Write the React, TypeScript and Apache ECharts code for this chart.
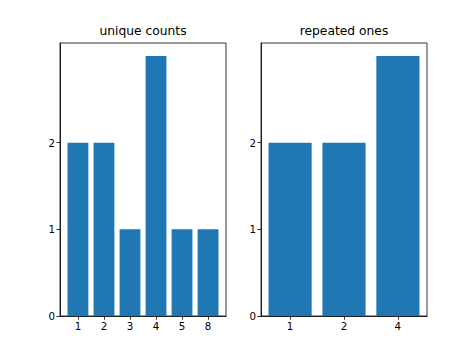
import React, { useEffect, useRef } from "react";
import * as echarts from "echarts";

const leftTitle = "unique counts";
const rightTitle = "repeated ones";
const leftCategories = ["1", "2", "3", "4", "5", "8"];
const leftValues = [2, 2, 1, 3, 1, 1];
const rightCategories = ["1", "2", "4"];
const rightValues = [2, 2, 3];
const yTicks = [0, 1, 2];

const W = 474;
const H = 355;
const FONT = "DejaVu Sans";
const BLUE = "#1f77b4";

export default function App() {
  const ref = useRef<HTMLDivElement>(null);
  useEffect(() => {
    if (!ref.current) return;
    const chart = echarts.init(ref.current, null, { renderer: "svg" });
    const grids = [
      { left: 60, right: W - 226, top: 43, bottom: H - 316 },
      { left: 261, right: W - 427, top: 43, bottom: H - 316 },
    ];
    const sets = [
      { cats: leftCategories, vals: leftValues, title: leftTitle },
      { cats: rightCategories, vals: rightValues, title: rightTitle },
    ];
    const xAxes: any[] = [];
    const yAxes: any[] = [];
    const series: any[] = [];
    const texts: any[] = [];
    sets.forEach((s, i) => {
      const n = s.cats.length;
      const span = n - 1 + 0.8;
      const margin = span * 0.05;
      const min = -0.4 - margin;
      const max = n - 1 + 0.4 + margin;
      const g = grids[i];
      const plotW = W - g.left - g.right;
      const barW = (0.8 * plotW) / (max - min);
      const idx = s.cats.map((_, k) => k);
      xAxes.push({
        type: "value",
        gridIndex: i,
        min,
        max,
        splitLine: { show: false },
        axisLine: { show: true, onZero: false, lineStyle: { color: "#000", width: 0.8 } },
        axisTick: { show: true, length: 3.6, customValues: idx, lineStyle: { color: "#000", width: 0.8 } },
        axisLabel: {
          customValues: idx,
          formatter: (v: number) => s.cats[Math.round(v)] ?? "",
          color: "#000",
          fontFamily: FONT,
          fontSize: 10.3,
          margin: 5,
        },
      });
      yAxes.push({
        type: "value",
        gridIndex: i,
        min: 0,
        max: 3.15,
        splitLine: { show: false },
        axisLine: { show: true, onZero: false, lineStyle: { color: "#000", width: 0.8 } },
        axisTick: { show: true, length: 3.6, customValues: yTicks, lineStyle: { color: "#000", width: 0.8 } },
        axisLabel: {
          customValues: yTicks,
          color: "#000",
          fontFamily: FONT,
          fontSize: 10.3,
          margin: 5,
        },
      });
      series.push({
        type: "bar",
        xAxisIndex: i,
        yAxisIndex: i,
        barWidth: barW,
        itemStyle: { color: BLUE },
        data: s.vals.map((v, k) => [k, v]),
      });
      texts.push({
        type: "text",
        x: g.left + plotW / 2,
        y: 25,
        style: {
          text: s.title,
          fontFamily: FONT,
          fontSize: 12.3,
          fill: "#000",
          align: "center",
          verticalAlign: "top",
        },
      });
    });
    chart.setOption({
      animation: false,
      backgroundColor: "#fff",
      graphic: texts,
      grid: grids.map((g) => ({ ...g, show: true, borderColor: "#000", borderWidth: 0.8, backgroundColor: "transparent" })),
      xAxis: xAxes,
      yAxis: yAxes,
      series,
    });
    return () => chart.dispose();
  }, []);
  return <div ref={ref} style={{ width: W, height: H, position: "absolute", left: 0, top: 0 }} />;
}
